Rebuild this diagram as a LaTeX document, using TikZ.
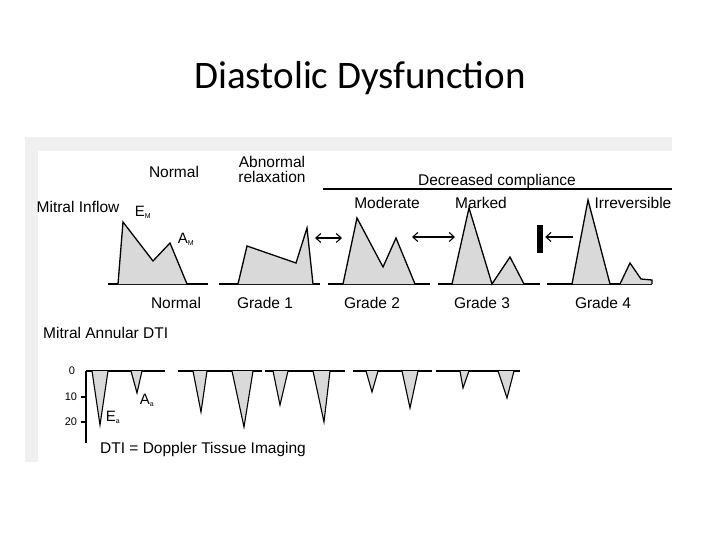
\documentclass[tikz,border=0pt]{standalone}
\usepackage{fontspec}
\usetikzlibrary{arrows.meta}
\setmainfont{Liberation Sans}
\newfontfamily\titlefont{Carlito}
\begin{document}
\begin{tikzpicture}[x=1pt,y=-1pt,
  lbl/.style={font=\fontsize{15.5}{17}\selectfont,inner sep=0pt,align=center},
  small/.style={font=\fontsize{15}{16}\selectfont,inner sep=0pt},
  tick/.style={font=\fontsize{11}{12}\selectfont,inner sep=0pt},
  wave/.style={draw=black,fill=gray!30,line width=1.3pt,line join=miter},
  base/.style={line width=1.3pt},
  arr/.style={line width=1.1pt,{Straight Barb[length=5pt,width=9pt]}-{Straight Barb[length=5pt,width=9pt]}}]
\useasboundingbox (0,0) rectangle (720,540);
\fill[gray!12] (25,137) rectangle (672,462);
\fill[white] (38,151) rectangle (672,462);
\node[font=\titlefont\fontsize{39}{42}\selectfont] (title) at (360,78) {Diastolic Dysfunction};
% top labels
\node[lbl] (mi) at (78,207) {Mitral Inflow};
\node[lbl] (nm) at (174,172) {Normal};
\node[lbl] (ar) at (272,169) {Abnormal\\[-2pt]relaxation};
\node[lbl] (dc) at (497,181) {Decreased compliance};
\draw[line width=1.2pt] (323,189) -- (672,189);
\node[lbl] (mo) at (387,203) {Moderate};
\node[lbl] (mk) at (481,203) {Marked};
\node[lbl] (ir) at (633,203) {Irreversible};
% baselines
\foreach \a/\b in {108/208,219/320,328/430,438/540,547/652} \draw[base] (\a,284)--(\b,284);
% waves
\draw[wave] (118,284)--(123,222)--(153,261)--(170,243)--(187,284);
\node[small] (em) at (143,212) {E\textsubscript{\scriptsize M}};
\node[small] (am) at (186,239) {A\textsubscript{\scriptsize M}};
\draw[wave] (238,284)--(247,246)--(296,263)--(307,228)--(313,284);
\draw[wave] (343,284)--(357,218)--(383,267)--(396,238)--(415,284);
\draw[wave] (452,284)--(469,208)--(492,284)--(510,257)--(524,284);
\draw[wave] (572,284)--(588,200)--(610,284);
\draw[wave] (620,284)--(630,263)--(641,279)--(652,280)--(652,284);
% arrows
\coordinate (a1) at (315,238); \coordinate (a2) at (342,238);
\draw[arr] (a1)--(a2);
\coordinate (b1) at (412,237); \coordinate (b2) at (455,237);
\draw[arr] (b1)--(b2);
\node[fill=black,minimum width=6pt,minimum height=27pt,inner sep=0pt] (bar) at (540,239) {};
\coordinate (c1) at (573,237);
\draw[line width=1.1pt,-{Straight Barb[length=5pt,width=9pt]}] (c1)--([xshift=2pt]bar.east|-c1);
% bottom labels
\node[lbl] (l0) at (176,303) {Normal};
\node[lbl] (l1) at (265,303) {Grade 1};
\node[lbl] (l2) at (372,303) {Grade 2};
\node[lbl] (l3) at (482,303) {Grade 3};
\node[lbl] (l4) at (603,303) {Grade 4};
% DTI
\node[lbl,anchor=west] (md) at (43,333) {Mitral Annular DTI};
\draw[line width=1.1pt] (86,371)--(86,443);
\draw[line width=1.1pt] (81,397)--(86,397) (81,422)--(86,422);
\node[tick] (t0) at (72,371) {0};
\node[tick] (t10) at (71,397) {10};
\node[tick] (t20) at (71,422) {20};
\foreach \a/\b in {86/165,178/262,265/345,353/432,436/520} \draw[base] (\a,371)--(\b,371);
\foreach \l/\r/\t/\y in {92/108/100/425,131/142/137/393,193/207/201/412,232/253/244/427,273/288/280/405,313/330/324/422,366/378/372/392,402/418/410/408,460/469/463/388,498/514/507/398}
  \draw[wave,line width=1.1pt] (\l,371)--(\t,\y)--(\r,371);
\node[small] (ea) at (113,417) {E\textsubscript{\scriptsize a}};
\node[small] (aa) at (147,400) {A\textsubscript{\scriptsize a}};
\node[lbl] (dti) at (203,449) {DTI = Doppler Tissue Imaging};
\end{tikzpicture}
\end{document}
